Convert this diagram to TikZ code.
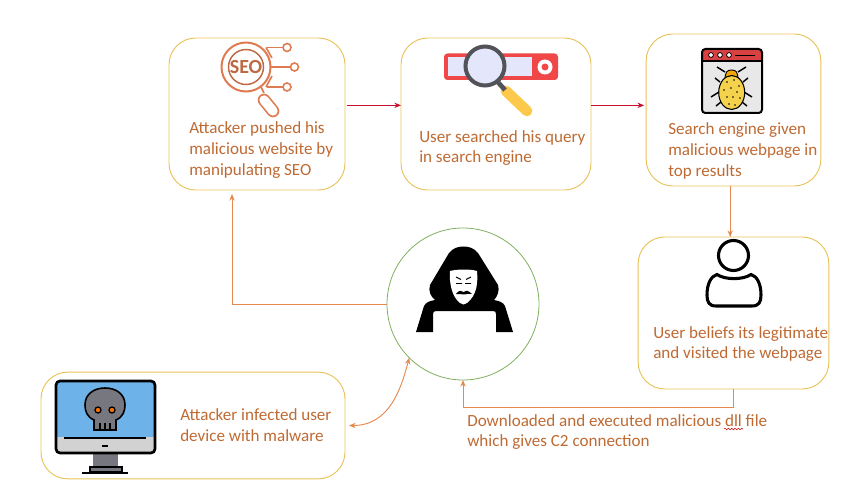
\documentclass[tikz,border=0pt]{standalone}
\usepackage{fontspec}
\setmainfont{Carlito}
\usetikzlibrary{arrows.meta,decorations.pathmorphing}
\definecolor{boxline}{HTML}{E8C35A}
\definecolor{labeltext}{HTML}{BF6A33}
\definecolor{linkorange}{HTML}{E58A4E}
\definecolor{linkred}{HTML}{C8102E}
\definecolor{ringgreen}{HTML}{7FAF5F}
\definecolor{seoorange}{HTML}{DE7B50}
\definecolor{inkdark}{HTML}{33343C}
\definecolor{barred}{HTML}{F04848}
\definecolor{lensblue}{HTML}{E4E6FB}
\definecolor{handleyellow}{HTML}{FCC94C}
\definecolor{bugyellow}{HTML}{F5D24C}
\definecolor{screenblue}{HTML}{6DB3E9}
\definecolor{skullgray}{HTML}{77777F}

\begin{document}
\begin{tikzpicture}[x=0.75pt,y=-0.75pt,
    stagebox/.style={draw=boxline, line width=0.7pt, rounded corners=20pt, minimum width=#1, inner sep=0pt, outer sep=0pt},
    stagetext/.style={anchor=west, align=left, text=labeltext, inner sep=0pt, font=\fontsize{12.8}{15.6}\selectfont},
    redlink/.style={draw=linkred, line width=0.7pt, -{Stealth[length=5pt,width=4pt]}},
    orangelink/.style={draw=linkorange, line width=0.7pt, -{Stealth[length=5pt,width=4pt]}}]
  \useasboundingbox (0,0) rectangle (844,485);

  \node[stagebox=132pt, minimum height=114pt] (seo) at (257,114) {};
  \node[stagebox=142.5pt, minimum height=114pt] (search) at (496,114) {};
  \node[stagebox=131pt, minimum height=114pt] (result) at (733.5,110) {};
  \node[stagebox=143pt, minimum height=114pt] (user) at (733.5,313) {};
  \node[stagebox=228pt, minimum height=80pt] (device) at (193,425.5) {};
  \node[draw=ringgreen, line width=0.6pt, circle, minimum size=114pt, inner sep=0pt, outer sep=0pt] (hack) at (463,304) {};

  \node[stagetext] (seotext) at (189,150) {Attacker pushed his\\malicious website by\\manipulating SEO};
  \node[stagetext] (searchtext) at (419,148) {User searched his query\\in search engine};
  \node[stagetext] (resulttext) at (668,151) {Search engine given\\malicious webpage in\\top results};
  \node[stagetext] (usertext) at (653,344) {User beliefs its legitimate\\and visited the webpage};
  \node[stagetext] (devicetext) at (180,425) {Attacker infected user\\device with malware};
  \node[stagetext] (dlltext) at (467,432) {Downloaded and executed malicious dll file\\which gives C2 connection};
  \draw[red!80!black, line width=0.4pt, decorate, decoration={snake, amplitude=0.5pt, segment length=2.5pt}] (724,429) -- (743,429);

  \draw[redlink, shorten <=1.5pt] ([yshift=6.5pt]seo.east) -- ([yshift=6.5pt]search.west);
  \draw[redlink, shorten >=1.5pt] ([yshift=6.5pt]search.east) -- ([yshift=3.5pt]result.west);
  \draw[orangelink] ([xshift=-2.5pt]result.south) -- ([xshift=-2.5pt]user.north);
  \draw[orangelink, shorten >=3pt] (hack.west) -| ([xshift=-18.75pt]seo.south);
  \draw[orangelink] (user.south) -- ++(0,18) -| (hack.south);
  \draw[orangelink, {Stealth[length=5pt,width=4pt]}-{Stealth[length=5pt,width=4pt]}, shorten <=3pt] (device.east) .. controls +(45,0) and +(-8,30) .. (hack.225);

  % seo icon
  \begin{scope}[draw=seoorange, line width=1.2pt]
    \draw[line width=1.5pt] (246,67) circle (24.5);
    \draw[draw=seoorange!85!black, line width=1.1pt] (246,67) circle (17.5);
    \draw (267,47.5) -- (282.5,47.5); \draw (271,67) -- (290.5,67); \draw (267,87) -- (282.5,87);
    \draw (266,47.5) -- (272,58); \draw (266,87) -- (272,76);
    \draw (287,47.5) circle (4); \draw (294.5,67) circle (4); \draw (287,87) circle (4);
    \draw (261,87) -- (264,93);
    \draw[line width=9.5pt, draw=seoorange, line cap=round] (264,100) -- (273,111);
    \draw[line width=7pt, draw=white, line cap=round] (264,100) -- (273,111);
    \node[font=\fontsize{15}{16}\selectfont, text=seoorange!85!black, inner sep=0pt] (seologo) at (246,67) {\textbf{SEO}};
  \end{scope}

  % search bar icon
  \fill[barred, rounded corners=2.5pt] (444,53.5) rectangle (558,80);
  \fill[lensblue] (448,57.5) rectangle (532,76);
  \fill[white] (545,67) circle (7.5);
  \fill[barred] (545,67) circle (3.5);
  \draw[line width=8pt, handleyellow, line cap=round] (506,91) -- (527,111);
  \draw[line width=3.5pt, inkdark!85] (496,80) -- (505,90);
  \draw[inkdark!85, fill=lensblue, line width=3pt] (485,66) circle (19.5);

  % bug window icon
  \fill[gray!18] (702,49) rectangle (762,113);
  \fill[barred!90!black, rounded corners=2pt] (702,49) rectangle (762,61);
  \draw[black, line width=1.5pt, rounded corners=2.5pt] (702,49) rectangle (762,113);
  \draw[black, line width=1.2pt] (702,61) -- (762,61);
  \fill[white, draw=black, line width=0.6pt] (711,55) circle (2.4) (720,55) circle (2.4) (729,55) circle (2.4);
  \draw[black, line width=1pt] (735,55.5) -- (755,55.5);
  \draw[black, line width=1.1pt] (725,72) -- (717,67) (738,72) -- (746,67)
    (720,82) -- (715,78) (743,82) -- (748,78)
    (719,92) -- (711,97) (744,92) -- (752,97)
    (721,102) -- (716,106) (742,102) -- (747,106);
  \fill[orange!60!yellow!80!brown, draw=black, line width=0.7pt] (725,80) .. controls (725,72) and (727,70) .. (731.7,70) .. controls (736,70) and (738,72) .. (738,80) -- cycle;
  \fill[bugyellow, draw=black, line width=0.8pt] (731.7,92.5) ellipse (13 and 17);
  \foreach \dotx/\doty in {727/82,734/80,739/86,724/90,731/88,737/92,727/97,733/97,740/98,729/104,735/105}
    \fill[black] (\dotx,\doty) circle (0.9);

  % hooded figure
  \fill[black] (416,332) -- (424,306) .. controls (426,302) and (430,301) .. (435,300)
    .. controls (431,297) and (428,291) .. (430,285) -- (449,253)
    .. controls (453,248) and (458,246.5) .. (463.5,246.5)
    .. controls (469,246.5) and (474,248) .. (478,253) -- (498,285)
    .. controls (500,291) and (497,297) .. (494,300)
    .. controls (499,301) and (503,302) .. (505,306) -- (513,332) -- (496,332)
    -- (496,314) .. controls (496,312) and (495,311) .. (493,311)
    -- (436,311) .. controls (434,311) and (433,312) .. (433,314) -- (433,332) -- cycle;
  \fill[white] (450,271) .. controls (458,269) and (470,269) .. (477,271)
    .. controls (478,283) and (477,295) .. (467,303) .. controls (465,305) and (462,305) .. (460,303)
    .. controls (452,297) and (449,283) .. (450,271) -- cycle;
  \draw[black, line width=0.7pt] (456,277) -- (461,279.5) (471,277) -- (466,279.5)
    (456,283.5) -- (462,283.5) (465,283.5) -- (471,283.5);
  \fill[black] (456,294) .. controls (459,290) and (462,290) .. (463.5,292)
    .. controls (465,290) and (468,290) .. (472,294)
    .. controls (468,293) and (465,295) .. (463.5,294.5)
    .. controls (462,295) and (459,293) .. (456,294) -- cycle;

  % user outline
  \draw[black, line width=2.3pt] (733.5,255.5) circle (15);
  \draw[black, line width=2.3pt] (717,274.5)
    .. controls (725,280) and (743,280) .. (751,274.5)
    .. controls (757,276) and (761,284) .. (761,295) .. controls (761,302) and (759,306) .. (752,306)
    -- (716,306) .. controls (709,306) and (707,302) .. (707,295)
    .. controls (707,284) and (711,276) .. (717,274.5) -- cycle;

  % monitor icon
  \fill[skullgray] (93,453) rectangle (118,467);
  \fill[skullgray, draw=black, line width=1.3pt] (90,467) rectangle (122,472);
  \draw[black, line width=2pt] (82,473) -- (128,473);
  \fill[screenblue] (56,381) rectangle (155,437);
  \fill[gray!35] (56,437) rectangle (155,453);
  \draw[black, line width=2pt, rounded corners=3pt] (56,381) rectangle (155,453);
  \draw[black, line width=1.2pt] (64,438) -- (146,438);
  \fill[black] (102,444.5) rectangle (108,447);
  \fill[skullgray, draw=black, line width=1.2pt] (94,420) .. controls (87,417) and (85,411) .. (85,405)
    .. controls (85,394) and (94,388) .. (105,388) .. controls (116,388) and (125,394) .. (125,405)
    .. controls (125,411) and (123,417) .. (116,420) -- (116,430) -- (94,430) -- cycle;
  \draw[black, line width=0.9pt] (100,423) -- (100,430) (105,423) -- (105,430) (110,423) -- (110,430);
  \fill[orange!90!red, draw=black, line width=1pt] (98,410) circle (3) (112,410) circle (3);
\end{tikzpicture}
\end{document}
